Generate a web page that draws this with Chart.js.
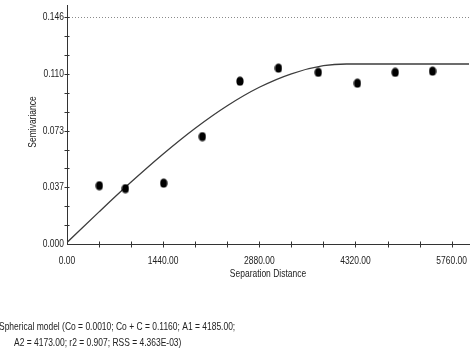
<!DOCTYPE html>
<html>
<head>
<meta charset="utf-8">
<script src="https://cdn.jsdelivr.net/npm/chart.js@4/dist/chart.umd.min.js"></script>
<style>
html,body{margin:0;padding:0;background:#fff;}
#wrap{width:474px;height:353px;position:relative;}
</style>
</head>
<body>
<div id="wrap"><canvas id="c" width="474" height="353"></canvas></div>
<script>
// Observed semivariance points
const lagDistance = [484, 875, 1447, 2027, 2590, 3167, 3763, 4349, 4915, 5474];
const semivariance = [0.0376, 0.0357, 0.0392, 0.0692, 0.1049, 0.1133, 0.1106, 0.1036, 0.1106, 0.1114];
// Fitted model curve
const modelDistance = [0, 480, 960, 1440, 1920, 2400, 2880, 3360, 3840, 4185, 6020];
const modelValue = [0.001, 0.0207, 0.0399, 0.0580, 0.0746, 0.0891, 0.1010, 0.1097, 0.1149, 0.1160, 0.1160];
// Tick labels
const xTickValues = [0, 1440, 2880, 4320, 5760];
const xTickLabels = ["0.00", "1440.00", "2880.00", "4320.00", "5760.00"];
const yTickValues = [0, 0.0365, 0.073, 0.1095, 0.146];
const yTickLabels = ["0.000", "0.037", "0.073", "0.110", "0.146"];
const xTitle = "Separation Distance";
const yTitle = "Semivariance";
const footLines = ["Spherical model (Co = 0.0010; Co + C = 0.1160; A1 = 4185.00;",
                   "A2 = 4173.00; r2 = 0.907; RSS = 4.363E-03)"];

const FONT = '11px "Liberation Sans", Arial, sans-serif';
const SX = 0.77;
const Y_TOP = 0.146, Y_MINOR = 12, X_STEP = 480, X_LAST = 5760;

function txt(ctx, s, x, y, align, rot) {
  ctx.save();
  ctx.translate(x, y);
  if (rot) ctx.rotate(rot);
  ctx.scale(SX, 1);
  ctx.textAlign = align; ctx.textBaseline = 'middle';
  ctx.fillText(s, 0, 0);
  ctx.restore();
}

// elliptical dot marker
const dot = document.createElement('canvas');
dot.width = 8; dot.height = 10;
(function(){ const g = dot.getContext('2d'); g.fillStyle = '#000'; g.beginPath(); g.ellipse(4, 5, 3.6, 4.5, 0, 0, Math.PI*2); g.fill(); })();

const decor = {
  id: 'decor',
  afterDraw(chart) {
    const ctx = chart.ctx, xs = chart.scales.x, ys = chart.scales.y, a = chart.chartArea;
    ctx.save();
    // dotted top line
    const yt = Math.round(ys.getPixelForValue(Y_TOP)) + 0.5;
    ctx.strokeStyle = '#8a8a8a'; ctx.lineWidth = 1; ctx.setLineDash([1, 2]);
    ctx.beginPath(); ctx.moveTo(a.left + 2, yt); ctx.lineTo(a.right + 1, yt); ctx.stroke();
    ctx.setLineDash([]);
    // cross tick marks
    ctx.strokeStyle = '#333';
    const yb = Math.round(ys.getPixelForValue(0)) + 0.5;
    for (let v = X_STEP; v <= X_LAST; v += X_STEP) {
      const px = Math.round(xs.getPixelForValue(v)) + 0.5;
      ctx.beginPath(); ctx.moveTo(px, yb - 3); ctx.lineTo(px, yb + 3); ctx.stroke();
    }
    const xl = Math.round(xs.getPixelForValue(0)) + 0.5;
    for (let i = 1; i <= Y_MINOR; i++) {
      const py = Math.round(ys.getPixelForValue(Y_TOP * i / Y_MINOR)) + 0.5;
      ctx.beginPath(); ctx.moveTo(xl - 3, py); ctx.lineTo(xl + 2, py); ctx.stroke();
    }
    // tick labels
    ctx.fillStyle = '#222';
    ctx.font = FONT;
    xTickValues.forEach((v, i) => txt(ctx, xTickLabels[i], xs.getPixelForValue(v), 261, 'center'));
    yTickValues.forEach((v, i) => txt(ctx, yTickLabels[i], 64, ys.getPixelForValue(v), 'right'));
    // titles
    txt(ctx, xTitle, (a.left + a.right) / 2, 274, 'center');
    txt(ctx, yTitle, 33, 122, 'center', -Math.PI / 2);
    // footnote
    txt(ctx, footLines[0], -1, 327, 'left');
    txt(ctx, footLines[1], 14, 343, 'left');
    ctx.restore();
  }
};

new Chart(document.getElementById('c'), {
  type: 'scatter',
  data: {
    datasets: [
      {
        data: lagDistance.map((x, i) => ({x, y: semivariance[i]})),
        pointStyle: dot, backgroundColor: '#000', borderColor: '#000',
        pointRadius: 4, pointHoverRadius: 4, showLine: false, order: 1
      },
      {
        data: modelDistance.map((x, i) => ({x, y: modelValue[i]})),
        showLine: true, borderColor: '#3c3c3c', borderWidth: 1.3,
        pointRadius: 0, cubicInterpolationMode: 'monotone', fill: false, order: 2
      }
    ]
  },
  options: {
    responsive: false, animation: false,
    layout: {padding: {left: 0, right: 3, top: 0, bottom: 0}},
    plugins: {legend: {display: false}, tooltip: {enabled: false}},
    scales: {
      x: {
        type: 'linear', min: 0, max: 6020,
        afterFit(s) { s.height = 109; s.paddingLeft = 0; s.paddingRight = 0; },
        ticks: {display: false},
        grid: {display: false, drawTicks: false},
        border: {display: true, color: '#333', width: 1}
      },
      y: {
        type: 'linear', min: 0, max: Y_TOP * 244 / (244 - 12.7),
        afterFit(s) { s.width = 67; s.paddingTop = 0; s.paddingBottom = 0; },
        ticks: {display: false},
        grid: {display: false, drawTicks: false},
        border: {display: true, color: '#333', width: 1}
      }
    }
  },
  plugins: [decor]
});
</script>
</body>
</html>
